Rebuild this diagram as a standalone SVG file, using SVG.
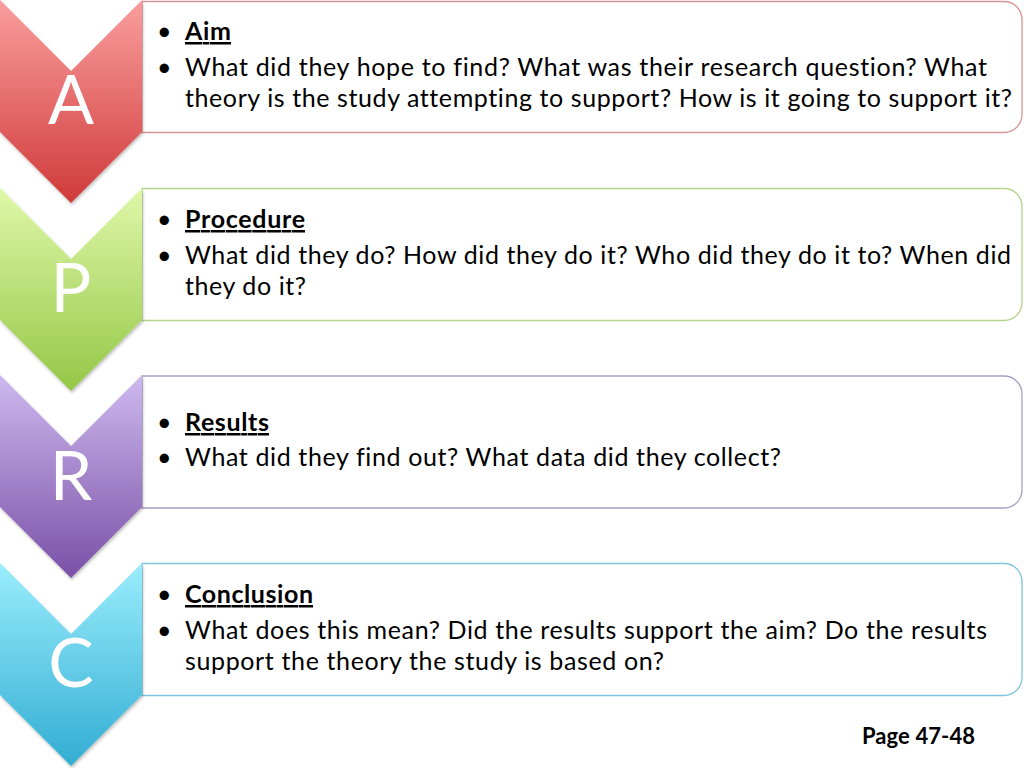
<svg xmlns="http://www.w3.org/2000/svg" width="1024" height="768" viewBox="0 0 1024 768">
<defs>
<style>
.box{fill:#ffffff;stroke-width:1.3}
.big{font-family:Lato,"Open Sans","Liberation Sans",sans-serif;font-size:68px;fill:#ffffff;text-anchor:middle}
.t{font-family:Lato,"Open Sans","Liberation Sans",sans-serif;font-size:25px;fill:#000000;font-variant-ligatures:none}
.h{font-weight:bold;text-decoration:underline}
.pg{font-family:Lato,"Open Sans","Liberation Sans",sans-serif;font-size:22px;font-weight:bold;fill:#000000}
</style>
<linearGradient id="gA" x1="0" y1="0" x2="0" y2="1"><stop offset="0" stop-color="#fa9e9e"/><stop offset="1" stop-color="#d03a3a"/></linearGradient>
<linearGradient id="gP" x1="0" y1="0" x2="0" y2="1"><stop offset="0" stop-color="#dff8a9"/><stop offset="1" stop-color="#94c747"/></linearGradient>
<linearGradient id="gR" x1="0" y1="0" x2="0" y2="1"><stop offset="0" stop-color="#cdb9ef"/><stop offset="1" stop-color="#7a50a6"/></linearGradient>
<linearGradient id="gC" x1="0" y1="0" x2="0" y2="1"><stop offset="0" stop-color="#9aedfc"/><stop offset="1" stop-color="#32add3"/></linearGradient>
<filter id="sh" x="-10%" y="-10%" width="130%" height="130%"><feDropShadow dx="1" dy="2" stdDeviation="1.5" flood-color="#000" flood-opacity="0.25"/></filter>
</defs>

<g id="node-aim">
<path class="box" stroke="#d99594" d="M142,1.5 H1004 A18,18 0 0 1 1022,19.5 V114.5 A18,18 0 0 1 1004,132.5 H142 Z"/>
<path filter="url(#sh)" fill="url(#gA)" d="M0,0 L71,71 L142,0 V132 L71,203 L0,132 Z"/>
<text class="big" x="71" y="124">A</text>
<text class="t" x="157" y="40">•</text>
<text class="t h" x="185" y="40" textLength="46">Aim</text>
<text class="t" x="157" y="76">•</text>
<text class="t" x="185" y="76" textLength="802">What did they hope to find? What was their research question? What</text>
<text class="t" x="185" y="107" textLength="827">theory is the study attempting to support? How is it going to support it?</text>
</g>

<g id="node-procedure">
<path class="box" stroke="#b5d38c" d="M142,188.5 H1004 A18,18 0 0 1 1022,206.5 V302.5 A18,18 0 0 1 1004,320.5 H142 Z"/>
<path filter="url(#sh)" fill="url(#gP)" d="M0,188 L71,259 L142,188 V320 L71,391 L0,320 Z"/>
<text class="big" x="71" y="312">P</text>
<text class="t" x="157" y="228">•</text>
<text class="t h" x="185" y="228" textLength="120">Procedure</text>
<text class="t" x="157" y="264">•</text>
<text class="t" x="185" y="264" textLength="826">What did they do? How did they do it? Who did they do it to? When did</text>
<text class="t" x="185" y="295" textLength="121">they do it?</text>
</g>

<g id="node-results">
<path class="box" stroke="#a9a0c6" d="M142,376 H1004 A18,18 0 0 1 1022,394 V490 A18,18 0 0 1 1004,508 H142 Z"/>
<path filter="url(#sh)" fill="url(#gR)" d="M0,375 L71,446 L142,375 V507 L71,578 L0,507 Z"/>
<text class="big" x="71" y="500">R</text>
<text class="t" x="157" y="431">•</text>
<text class="t h" x="185" y="431" textLength="84">Results</text>
<text class="t" x="157" y="466">•</text>
<text class="t" x="185" y="466" textLength="596">What did they find out? What data did they collect?</text>
</g>

<g id="node-conclusion">
<path class="box" stroke="#7fc6dc" d="M142,563.5 H1004 A18,18 0 0 1 1022,581.5 V677.5 A18,18 0 0 1 1004,695.5 H142 Z"/>
<path filter="url(#sh)" fill="url(#gC)" d="M0,563 L71,634 L142,563 V695 L71,766 L0,695 Z"/>
<text class="big" x="71" y="687">C</text>
<text class="t" x="157" y="603">•</text>
<text class="t h" x="185" y="603" textLength="128">Conclusion</text>
<text class="t" x="157" y="639">•</text>
<text class="t" x="185" y="639" textLength="802">What does this mean? Did the results support the aim? Do the results</text>
<text class="t" x="185" y="670" textLength="479">support the theory the study is based on?</text>
</g>

<g id="connectors"></g>

<text class="pg" x="862" y="744" textLength="113">Page 47-48</text>
</svg>
